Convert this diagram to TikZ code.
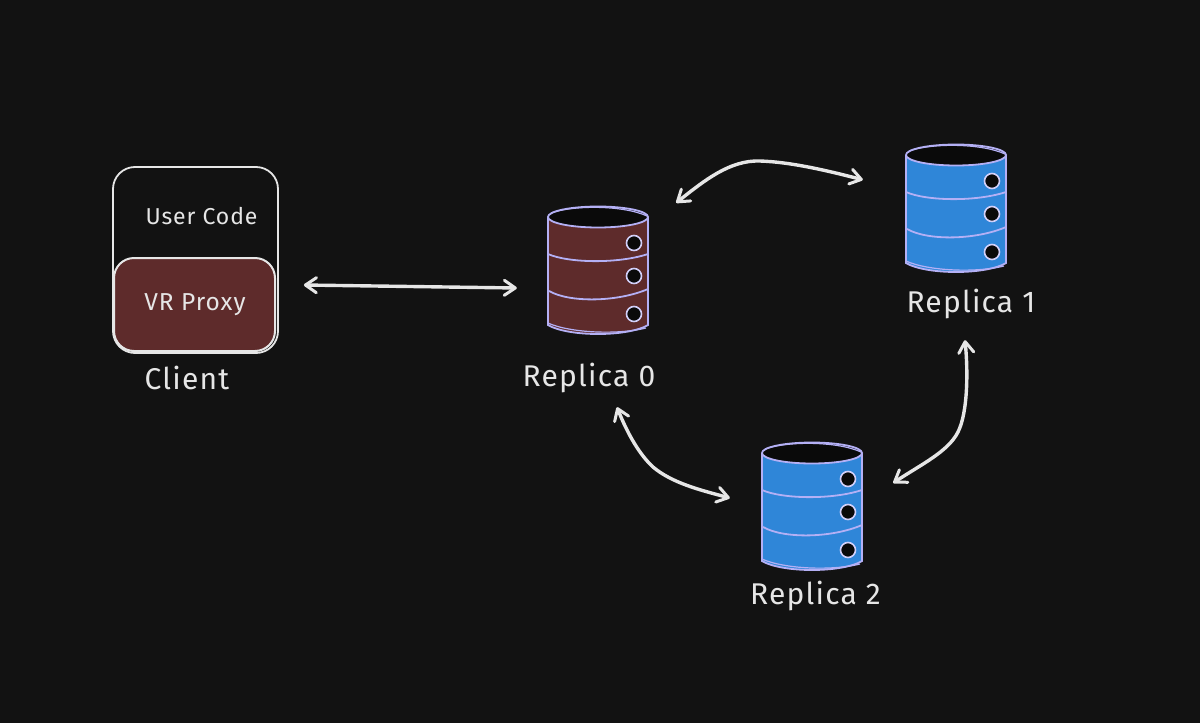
\documentclass[tikz,border=0pt]{standalone}
\usepackage{fontspec}
\setmainfont{Fira Sans}[LetterSpace=4]
\usetikzlibrary{arrows.meta}
\definecolor{bgc}{HTML}{121212}
\definecolor{holec}{HTML}{0A0A0A}
\definecolor{maroon}{HTML}{5E2B2B}
\definecolor{bluefill}{HTML}{2F86D8}
\definecolor{edgec}{HTML}{B4B0F5}
\definecolor{inkc}{HTML}{E6E6E6}
\tikzset{
  barb/.tip={Straight Barb[length=11pt,width=15pt,line width=3pt,round]},
  link/.style={draw=inkc,line width=3.4pt,line cap=round,{barb}-{barb}},
  lab/.style={text=inkc,font=\fontsize{30}{33}\selectfont,inner sep=0pt},
  smalllab/.style={text=inkc,font=\fontsize{23}{26}\selectfont,inner sep=0pt},
  dbedge/.style={draw=edgec,line width=1.8pt},
  hole/.style={circle,draw=edgec!60!white,line width=1.6pt,fill=holec,minimum size=15pt,inner sep=0pt},
  slot/.style={minimum width=100pt,minimum height=126pt,inner sep=0pt}
}
% #1 name, #2 x (left), #3 y (top of ellipse), #4 fill
\newcommand{\dbcyl}[4]{%
  \begin{scope}[shift={(#2,#3)}]
    \fill[#4] (0,10) -- (0,118) .. controls (20,130) and (80,130) .. (100,118) -- (100,10) -- cycle;
    \draw[dbedge] (0,10) -- (0,118) .. controls (20,130) and (80,130) .. (100,118) -- (100,10);
    \draw[dbedge,line width=1.2pt] (0,116) .. controls (22,126) and (70,128) .. (98,121);
    \draw[dbedge,fill=holec] (50,10) ellipse [x radius=50,y radius=10.5];
    \draw[dbedge,line width=1.2pt] (3,6) .. controls (25,-2) and (75,-2) .. (99,9);
    \draw[dbedge] (0,47) .. controls (20,56) and (70,57) .. (100,47);
    \draw[dbedge] (1,84) .. controls (22,96) and (70,95) .. (100,82);
    \node[hole] (#1h1) at (86,36) {};
    \node[hole] (#1h2) at (86,69) {};
    \node[hole] (#1h3) at (86,107) {};
    \node[slot] (#1) at (50,63) {};
  \end{scope}}
\begin{document}
\begin{tikzpicture}[x=1pt,y=-1pt]
\useasboundingbox (0,0) rectangle (1200,723);
\fill[bgc] (0,0) rectangle (1200,723);
% client
\node[draw=inkc,line width=1.8pt,rounded corners=22pt,minimum width=165pt,minimum height=186pt,inner sep=0pt] (client) at (195.5,260) {};
\node[draw=inkc,line width=2pt,fill=maroon,rounded corners=20pt,minimum width=161pt,minimum height=93pt,inner sep=0pt] (proxy) at (194.5,304.5) {};
\node[smalllab] (user) at (201.5,216) {User Code};
\node[smalllab,font=\fontsize{24.5}{27}\selectfont] (vr) at (195,305) {VR Proxy};
\node[lab] (clientlab) at (187,378) {Client};
% replicas
\dbcyl{r0}{548}{207}{maroon}
\dbcyl{r1}{906}{145}{bluefill}
\dbcyl{r2}{762}{443}{bluefill}
\node[lab] (r0lab) at (589,378) {Replica 0};
\node[lab] (r1lab) at (971,304) {Replica 1};
\node[lab] (r2lab) at (815.5,596) {Replica 2};
% connectors
\draw[link] ([shift={(25,25)}]client.east) -- ([shift={(-31,18)}]r0.west);
\draw[link] ([shift={(28,-4)}]r0.north east) .. controls (705,180) and (730,160) .. (760,161) .. controls (790,162) and (825,170) .. ([shift={(-43,35)}]r1.north west);
\draw[link] ([shift={(19,74)}]r0.south) .. controls (628,435) and (640,455) .. (653,467) .. controls (672,483) and (700,490) .. ([shift={(-32,-8)}]r2.west);
\draw[link] ([shift={(9,69)}]r1.south) .. controls (968,370) and (968,412) .. (958,432) .. controls (948,452) and (920,465) .. ([shift={(31,-23)}]r2.east);
\end{tikzpicture}
\end{document}
